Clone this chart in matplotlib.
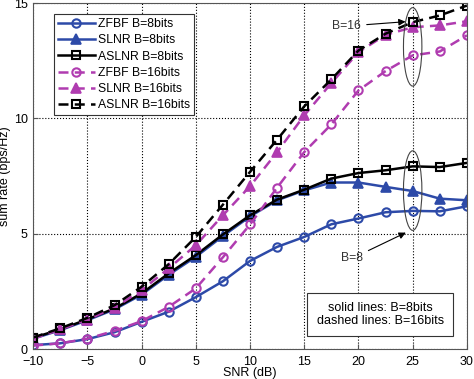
import matplotlib
matplotlib.use("Agg")
import matplotlib.pyplot as plt
from matplotlib.patches import Ellipse
import numpy as np

plt.rcParams['font.family'] = ['Liberation Sans', 'DejaVu Sans']

snr = np.arange(-10, 30.1, 2.5)

zfbf8 = [0.17, 0.25, 0.43, 0.73, 1.18, 1.62, 2.25, 2.94, 3.82, 4.43, 4.86, 5.41, 5.66, 5.93, 5.99, 5.97, 6.19]
slnr8 = [0.45, 0.82, 1.25, 1.72, 2.36, 3.22, 4.0, 4.9, 5.75, 6.45, 6.88, 7.22, 7.22, 7.03, 6.85, 6.52, 6.45]
aslnr8 = [0.49, 0.85, 1.29, 1.76, 2.41, 3.28, 4.07, 4.97, 5.8, 6.48, 6.91, 7.39, 7.63, 7.75, 7.92, 7.89, 8.07]
zfbf16 = [0.15, 0.25, 0.45, 0.79, 1.21, 1.83, 2.63, 3.98, 5.4, 7.0, 8.54, 9.74, 11.21, 12.05, 12.73, 12.9, 13.6]
slnr16 = [0.45, 0.85, 1.28, 1.8, 2.55, 3.5, 4.5, 5.8, 7.06, 8.54, 10.13, 11.53, 12.87, 13.62, 13.95, 14.03, 14.21]
aslnr16 = [0.5, 0.9, 1.35, 1.9, 2.7, 3.68, 4.86, 6.26, 7.68, 9.08, 10.52, 11.69, 12.94, 13.67, 14.17, 14.46, 14.89]

blue = '#2d4aa8'
mag = '#b03cb0'

fig = plt.figure(figsize=(4.74, 3.79), dpi=100)
ax = fig.add_axes([0.07, 0.079, 0.915, 0.913])

ms = 6
dash = (4, 2.5)
ax.plot(snr, zfbf8, '-o', color=blue, lw=1.8, ms=ms, mfc='none', mew=1.5, label='ZFBF B=8bits')
ax.plot(snr, slnr8, '-^', color=blue, lw=1.8, ms=ms+1, mfc=blue, mew=1.2, label='SLNR B=8bits')
ax.plot(snr, aslnr8, '-s', color='black', lw=1.8, ms=ms, mfc='none', mew=1.5, label='ASLNR B=8bits')
ax.plot(snr, zfbf16, '--o', color=mag, lw=1.8, ms=ms, mfc='none', mew=1.5, dashes=dash, label='ZFBF B=16bits')
ax.plot(snr, slnr16, '--^', color=mag, lw=1.8, ms=ms+1, mfc=mag, mew=1.2, dashes=dash, label='SLNR B=16bits')
ax.plot(snr, aslnr16, '--s', color='black', lw=1.8, ms=ms, mfc='none', mew=1.5, dashes=dash, label='ASLNR B=16bits')

ax.set_xlim(-10, 30)
ax.set_ylim(0, 15)
ax.set_xticks(range(-10, 31, 5))
ax.set_yticks([0, 5, 10, 15])
ax.grid(True, linestyle=':', color='black', lw=0.8)
for s in ax.spines.values():
    s.set_color('#555555')
ax.tick_params(labelsize=9, direction='in', color='#555555')
ax.tick_params(axis='x', pad=5)
ax.tick_params(axis='y', pad=4)

ax.set_xlabel('SNR (dB)', fontsize=9, labelpad=-1)
ax.set_ylabel('sum rate (bps/Hz)', fontsize=9, labelpad=2)

leg = ax.legend(loc='upper left', fontsize=8.8, bbox_to_anchor=(0.035, 0.985),
                handlelength=3, handletextpad=0.3, borderpad=0.3, labelspacing=0.35,
                fancybox=False, framealpha=1, edgecolor='#333333')
leg.get_frame().set_linewidth(0.8)

ax.add_patch(Ellipse((25, 13.1), 1.7, 3.4, fill=False, edgecolor='#444444', lw=0.8, zorder=5))
ax.add_patch(Ellipse((25, 6.87), 1.7, 3.45, fill=False, edgecolor='#444444', lw=0.8, zorder=5))

ax.annotate('B=16', xy=(24.6, 14.2), xytext=(17.6, 14.0), fontsize=8.8, color='#333333',
            va='center', arrowprops=dict(arrowstyle='-|>', color='black', lw=0.8, mutation_scale=10))
ax.annotate('B=8', xy=(24.6, 5.1), xytext=(18.4, 3.93), fontsize=8.8, color='#333333',
            va='center', arrowprops=dict(arrowstyle='-|>', color='black', lw=0.8, mutation_scale=10))

ax.text(22.0, 1.5, 'solid lines: B=8bits\ndashed lines: B=16bits', fontsize=9,
        ha='center', va='center', linespacing=1.1,
        bbox=dict(boxstyle='square,pad=0.75', fc='white', ec='#333333', lw=0.8))

fig.savefig('out.png', dpi=100)
